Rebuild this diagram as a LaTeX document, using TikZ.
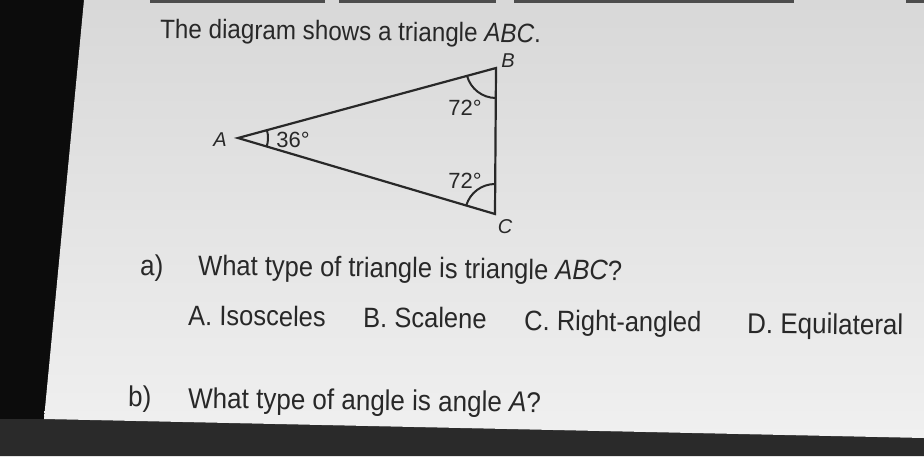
\documentclass[tikz,border=0pt]{standalone}
\usepackage{fontspec}
\setmainfont{Liberation Sans}
\usetikzlibrary{angles}
\definecolor{ink}{RGB}{40,40,40}
\definecolor{papertop}{RGB}{216,216,216}
\definecolor{paperbot}{RGB}{240,240,240}
\definecolor{floor}{RGB}{42,42,42}
\definecolor{dark}{RGB}{12,12,12}
\begin{document}
\begin{tikzpicture}[x=1pt,y=-1pt,
  txt/.style={inner sep=0pt,anchor=base west,text=ink,rotate=-0.7,yscale=1.1},
  lbl/.style={inner sep=0pt,text=ink},
  edge/.style={draw=ink,line width=2.2pt,line join=miter},
  arcmark/.style={draw=ink,line width=2pt,angle radius=30pt}]
\useasboundingbox (0,0) rectangle (924,456);
% background
\fill[dark] (0,0) rectangle (924,456);
\fill[floor] (0,419) -- (44,419) -- (924,438) -- (924,456) -- (0,456) -- cycle;
\shade[top color=papertop,bottom color=paperbot] (84,0) -- (924,0) -- (924,438) -- (44,419) -- cycle;
\fill[gray!60!black] (150,0) rectangle (325,2.5);
\fill[gray!60!black] (339,0) rectangle (496,2.5);
\fill[gray!60!black] (514,0) rectangle (794,2.5);
\fill[gray!60!black] (906,0) rectangle (924,2.5);
% title
\node[txt,font=\fontsize{24.2}{28}\selectfont] (title) at (160,38) {The diagram shows a triangle \textit{ABC}.};
% triangle
\coordinate (A) at (238,138);
\coordinate (B) at (496,68);
\coordinate (C) at (495,214);
\draw[edge] (A) -- (B) -- (C) -- cycle;
\pic[arcmark] {angle = A--B--C};
\pic[arcmark] {angle = B--C--A};
\pic[arcmark] {angle = C--A--B};
\node[lbl,font=\fontsize{20}{22}\selectfont\itshape] (lA) at (220,140) {A};
\node[lbl,font=\fontsize{20}{22}\selectfont\itshape] (lB) at (508,61) {B};
\node[lbl,font=\fontsize{20}{22}\selectfont\itshape] (lC) at (505,227) {C};
\node[lbl,font=\fontsize{22}{24}\selectfont] (a36) at (293,140) {36°};
\node[lbl,font=\fontsize{22}{24}\selectfont] (b72) at (465,108) {72°};
\node[lbl,font=\fontsize{22}{24}\selectfont] (c72) at (465,181) {72°};
% question a
\node[txt,font=\fontsize{26}{30}\selectfont] (qa) at (140,275) {a)};
\node[txt,font=\fontsize{25.5}{30}\selectfont] (qatext) at (198,275) {What type of triangle is triangle \textit{ABC}?};
\node[txt,font=\fontsize{25.5}{30}\selectfont] (optA) at (188,325) {A. Isosceles};
\node[txt,font=\fontsize{25.5}{30}\selectfont] (optB) at (363,327) {B. Scalene};
\node[txt,font=\fontsize{25.5}{30}\selectfont] (optC) at (524,330) {C. Right-angled};
\node[txt,font=\fontsize{26}{30}\selectfont] (optD) at (747,333) {D. Equilateral};
% question b
\node[txt,font=\fontsize{26}{30}\selectfont] (qb) at (128,406) {b)};
\node[txt,font=\fontsize{26}{30}\selectfont] (qbtext) at (188,408) {What type of angle is angle \textit{A}?};
\end{tikzpicture}
\end{document}
